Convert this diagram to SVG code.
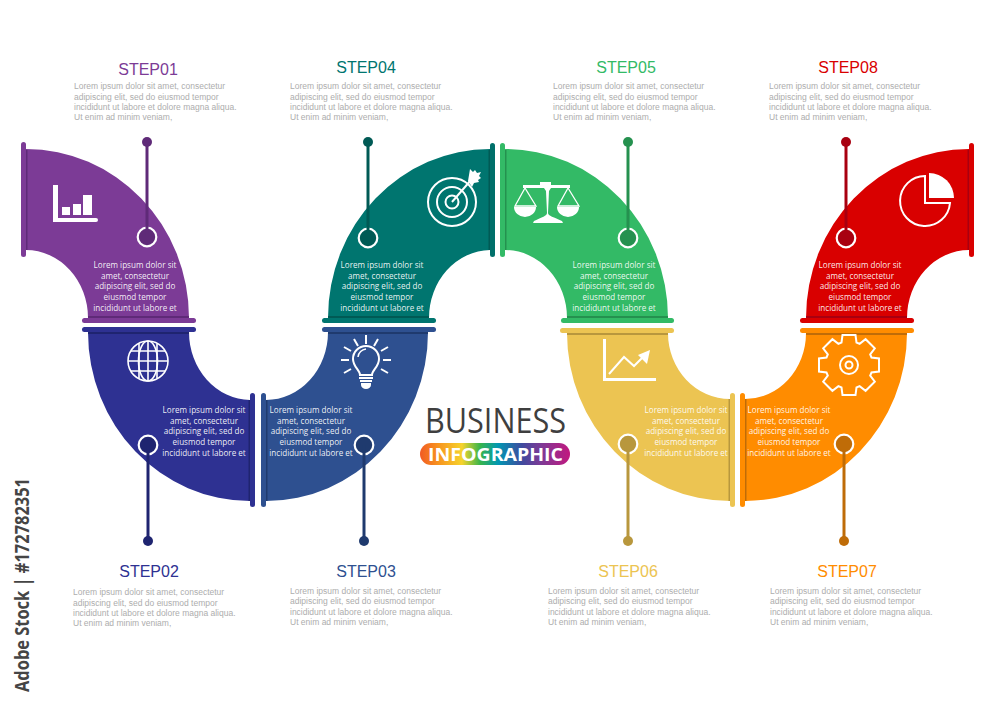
<svg xmlns="http://www.w3.org/2000/svg" width="1000" height="707" viewBox="0 0 1000 707">
<defs>
<linearGradient id="rainbow" x1="0" x2="1" y1="0" y2="0">
<stop offset="0" stop-color="#f15a24"/><stop offset="0.12" stop-color="#f7931e"/><stop offset="0.28" stop-color="#f6d32d"/><stop offset="0.4" stop-color="#39b54a"/><stop offset="0.52" stop-color="#0097b2"/><stop offset="0.68" stop-color="#3f4a9e"/><stop offset="0.8" stop-color="#7a3b96"/><stop offset="1" stop-color="#c2187f"/>
</linearGradient>
</defs>
<style>
text{font-family:"Liberation Sans",Arial,sans-serif}
.in{font-family:"Open Sans","Noto Sans",sans-serif;font-size:8.1px;fill:#fff;fill-opacity:.92;text-anchor:middle}
.ti{font-size:16px;text-anchor:middle}
.pa{font-size:8.5px;fill:#adadad}
.ic{fill:none;stroke:#fff;stroke-width:2}
.icf{fill:#fff;stroke:none}
.c{stroke-width:3;fill:none}
.r{stroke:#fff;stroke-width:2.200}
</style>
<rect width="1000" height="707" fill="#fff"/>

<g id="step01">
<path d="M26 149A163 169 0 0 1 189 318H88A62 68 0 0 0 26 250Z" fill="#7c3b96"/>
<rect x="88" y="316" width="101" height="2" fill="#5f2a78"/>
<rect x="26" y="150" width="1.500" height="100" fill="#5f2a78"/>
<rect x="21" y="142" width="5" height="115" rx="2.500" fill="#7c3b96"/>
<rect x="82" y="318" width="114" height="5" rx="2.500" fill="#7c3b96"/>
<path class="icf" d="M53 185h5v33h38a2 2 0 0 1 0 4H53Z"/><rect class="icf" x="62" y="207" width="8" height="8"/><rect class="icf" x="73" y="204" width="8" height="11"/><rect class="icf" x="83" y="195" width="9" height="20"/>
<text class="in" x="135" y="268">Lorem ipsum dolor sit</text><text class="in" x="135" y="279">amet, consectetur</text><text class="in" x="135" y="289">adipiscing elit, sed do</text><text class="in" x="135" y="300">eiusmod tempor</text><text class="in" x="135" y="310.500">incididunt ut labore et</text>
<text class="ti" x="148" y="75" fill="#7c3b96">STEP01</text>
<text class="pa" x="74" y="89">Lorem ipsum dolor sit amet, consectetur</text><text class="pa" x="74" y="99.500">adipiscing elit, sed do eiusmod tempor</text><text class="pa" x="74" y="109.500">incididunt ut labore et dolore magna aliqua.</text><text class="pa" x="74" y="119.500">Ut enim ad minim veniam,</text>
</g>

<g id="step02">
<path d="M88 332H189A62 68 0 0 0 250 400V501A162 169 0 0 1 88 332Z" fill="#2e3192"/>
<rect x="88" y="332" width="101" height="2" fill="#1f2470"/>
<rect x="248.500" y="400" width="1.500" height="101" fill="#1f2470"/>
<rect x="250" y="393" width="5" height="114" rx="2.500" fill="#2e3192"/>
<rect x="82" y="327" width="114" height="5" rx="2.500" fill="#2e3192"/>
<g class="ic" style="stroke-width:1.600"><circle cx="148" cy="361" r="20"/><ellipse cx="148" cy="361" rx="9.500" ry="20"/><path d="M148 341v40M131 351h34M128 361h40M131 371h34M139 343.500v35M157 343.500v35"/></g>
<text class="in" x="204" y="413">Lorem ipsum dolor sit</text><text class="in" x="204" y="424">amet, consectetur</text><text class="in" x="204" y="434">adipiscing elit, sed do</text><text class="in" x="204" y="445">eiusmod tempor</text><text class="in" x="204" y="455.500">incididunt ut labore et</text>
<text class="ti" x="149" y="577" fill="#2e3192">STEP02</text>
<text class="pa" x="73" y="595">Lorem ipsum dolor sit amet, consectetur</text><text class="pa" x="73" y="605.500">adipiscing elit, sed do eiusmod tempor</text><text class="pa" x="73" y="615.500">incididunt ut labore et dolore magna aliqua.</text><text class="pa" x="73" y="625.500">Ut enim ad minim veniam,</text>
</g>

<g id="step03">
<path d="M266 400A62 68 0 0 0 328 332H428A162 169 0 0 1 266 501Z" fill="#2e5090"/>
<rect x="328" y="332" width="100" height="2" fill="#1f3a6e"/>
<rect x="266" y="400" width="1.500" height="101" fill="#1f3a6e"/>
<rect x="261" y="393" width="5" height="114" rx="2.500" fill="#2e5090"/>
<rect x="322" y="327" width="114" height="5" rx="2.500" fill="#2e5090"/>
<path class="ic" d="M360 375c0-5-7-8-7-16a13 13 0 0 1 26 0c0 8-7 11-7 16Z"/>
<path class="ic" style="stroke-width:1.500" d="M366 349a9 9 0 0 0-8 8"/>
<path class="ic" d="M366 335v9M354 339l4 7M378 339l-4 7M344 347l7 4M388 347l-7 4M341 360h8M383 360h8M344 373l7-4M388 373l-7-4M359 378h14M360 381h12M361 384h10"/>
<path class="icf" d="M361 385h10a5 4 0 0 1-10 0Z"/>
<text class="in" x="311" y="413">Lorem ipsum dolor sit</text><text class="in" x="311" y="424">amet, consectetur</text><text class="in" x="311" y="434">adipiscing elit, sed do</text><text class="in" x="311" y="445">eiusmod tempor</text><text class="in" x="311" y="455.500">incididunt ut labore et</text>
<text class="ti" x="366" y="577" fill="#2e5090">STEP03</text>
<text class="pa" x="290" y="594">Lorem ipsum dolor sit amet, consectetur</text><text class="pa" x="290" y="604">adipiscing elit, sed do eiusmod tempor</text><text class="pa" x="290" y="614.500">incididunt ut labore et dolore magna aliqua.</text><text class="pa" x="290" y="624.500">Ut enim ad minim veniam,</text>
</g>

<g id="step04">
<path d="M328 318A162 169 0 0 1 490 149V250A62 68 0 0 0 429 318Z" fill="#00756f"/>
<rect x="328" y="316" width="101" height="2" fill="#005a55"/>
<rect x="488.500" y="150" width="1.500" height="100" fill="#005a55"/>
<rect x="490" y="143" width="5" height="114" rx="2.500" fill="#00706a"/>
<rect x="322" y="318" width="114" height="5" rx="2.500" fill="#00756f"/>
<g class="ic"><circle cx="452" cy="202" r="24"/><circle cx="452" cy="202" r="15"/><circle cx="452" cy="202" r="6.500"/><path d="M452 202l19-22"/></g>
<path class="icf" d="M468 181l2-12 3 3 2-2 2 3 4-1-2 4 2 2-3 2 1 2-5 1-2 4Z"/>
<text class="in" x="382" y="268">Lorem ipsum dolor sit</text><text class="in" x="382" y="279">amet, consectetur</text><text class="in" x="382" y="289">adipiscing elit, sed do</text><text class="in" x="382" y="300">eiusmod tempor</text><text class="in" x="382" y="310.500">incididunt ut labore et</text>
<text class="ti" x="366" y="73" fill="#00756f">STEP04</text>
<text class="pa" x="290" y="89">Lorem ipsum dolor sit amet, consectetur</text><text class="pa" x="290" y="99.500">adipiscing elit, sed do eiusmod tempor</text><text class="pa" x="290" y="109.500">incididunt ut labore et dolore magna aliqua.</text><text class="pa" x="290" y="119.500">Ut enim ad minim veniam,</text>
</g>

<g id="step05">
<path d="M505 149A163 169 0 0 1 668 318H567A62 68 0 0 0 505 250Z" fill="#33ba66"/>
<rect x="567" y="316" width="101" height="2" fill="#25914f"/>
<rect x="505" y="150" width="1.500" height="100" fill="#25914f"/>
<rect x="500" y="143" width="5" height="114" rx="2.500" fill="#33ba66"/>
<rect x="561" y="318" width="113" height="5" rx="2.500" fill="#33ba66"/>
<path class="icf" d="M523 185h17v-3h11v3h19v3h-19l-2 3-1 22c0 3 6 4 14 8l1 2h-30l1-2c8-4 13-5 13-8l-1-22-2-3h-21Z"/>
<path class="ic" style="stroke-width:1.300" d="M525 188l-10 18h21ZM568 188l-10 18h21Z"/>
<path class="icf" d="M514 207h22a11 10 0 0 1-22 0ZM557 207h22a11 10 0 0 1-22 0Z"/>
<text class="in" x="614" y="268">Lorem ipsum dolor sit</text><text class="in" x="614" y="279">amet, consectetur</text><text class="in" x="614" y="289">adipiscing elit, sed do</text><text class="in" x="614" y="300">eiusmod tempor</text><text class="in" x="614" y="310.500">incididunt ut labore et</text>
<text class="ti" x="626" y="73" fill="#33ba66">STEP05</text>
<text class="pa" x="553" y="89">Lorem ipsum dolor sit amet, consectetur</text><text class="pa" x="553" y="99.500">adipiscing elit, sed do eiusmod tempor</text><text class="pa" x="553" y="109.500">incididunt ut labore et dolore magna aliqua.</text><text class="pa" x="553" y="119.500">Ut enim ad minim veniam,</text>
</g>

<g id="step06">
<path d="M567 333H668A62 66 0 0 0 730 399V501A163 168 0 0 1 567 333Z" fill="#ecc452"/>
<rect x="567" y="333" width="101" height="2" fill="#b8973d"/>
<rect x="728.500" y="399" width="1.500" height="102" fill="#b8973d"/>
<rect x="730" y="393" width="5" height="114" rx="2.500" fill="#ecc452"/>
<rect x="560" y="328" width="114" height="5" rx="2.500" fill="#ecc452"/>
<path class="icf" d="M603 339h3v39h50v3h-53Z"/>
<path class="ic" d="M609 374l15-17 10 9 11-11"/>
<path class="icf" d="M650 350l-3 14-9-9Z"/>
<text class="in" x="686" y="413">Lorem ipsum dolor sit</text><text class="in" x="686" y="424">amet, consectetur</text><text class="in" x="686" y="434">adipiscing elit, sed do</text><text class="in" x="686" y="445">eiusmod tempor</text><text class="in" x="686" y="455.500">incididunt ut labore et</text>
<text class="ti" x="628" y="577" fill="#ecc452">STEP06</text>
<text class="pa" x="548" y="594">Lorem ipsum dolor sit amet, consectetur</text><text class="pa" x="548" y="604">adipiscing elit, sed do eiusmod tempor</text><text class="pa" x="548" y="614.500">incididunt ut labore et dolore magna aliqua.</text><text class="pa" x="548" y="624.500">Ut enim ad minim veniam,</text>
</g>

<g id="step07">
<path d="M745 399A61 66 0 0 0 806 333H907A162 168 0 0 1 745 501Z" fill="#ff8c00"/>
<rect x="806" y="333" width="101" height="2" fill="#bf6c08"/>
<rect x="745" y="399" width="1.500" height="102" fill="#bf6c08"/>
<rect x="740" y="393" width="5" height="114" rx="2.500" fill="#ff8c00"/>
<rect x="800" y="328" width="114" height="5" rx="2.500" fill="#ff8c00"/>
<g transform="translate(849 365)"><path class="ic" d="M-6.500 -30H6.500L7.500 -22.500L10.600 -21.200L16.600 -25.800L25.800 -16.600L21.200 -10.600L22.500 -7.500L30 -6.500V6.500L22.500 7.500L21.200 10.600L25.800 16.600L16.600 25.800L10.600 21.200L7.500 22.500L6.500 30H-6.500L-7.500 22.500L-10.600 21.200L-16.600 25.800L-25.800 16.600L-21.200 10.600L-22.500 7.500L-30 6.500V-6.500L-22.500 -7.500L-21.200 -10.600L-25.800 -16.600L-16.600 -25.800L-10.600 -21.200L-7.500 -22.500Z"/><circle class="ic" r="9"/><circle class="ic" r="3.500"/></g>
<text class="in" x="789" y="413">Lorem ipsum dolor sit</text><text class="in" x="789" y="424">amet, consectetur</text><text class="in" x="789" y="434">adipiscing elit, sed do</text><text class="in" x="789" y="445">eiusmod tempor</text><text class="in" x="789" y="455.500">incididunt ut labore et</text>
<text class="ti" x="847" y="577" fill="#ff8c00">STEP07</text>
<text class="pa" x="770" y="594">Lorem ipsum dolor sit amet, consectetur</text><text class="pa" x="770" y="604">adipiscing elit, sed do eiusmod tempor</text><text class="pa" x="770" y="614.500">incididunt ut labore et dolore magna aliqua.</text><text class="pa" x="770" y="624.500">Ut enim ad minim veniam,</text>
</g>

<g id="step08">
<path d="M806 318A163 169 0 0 1 969 149V250A62 68 0 0 0 907 318Z" fill="#d90000"/>
<rect x="806" y="316" width="101" height="2" fill="#a80010"/>
<rect x="967.500" y="150" width="1.500" height="100" fill="#a80010"/>
<rect x="969" y="143" width="5" height="114" rx="2.500" fill="#d90000"/>
<rect x="800" y="318" width="114" height="5" rx="2.500" fill="#d90000"/>
<path class="ic" d="M925 176A25 25 0 1 0 950 203H925Z"/>
<path class="icf" d="M929 173A25 25 0 0 1 954 198H929Z"/>
<text class="in" x="860" y="268">Lorem ipsum dolor sit</text><text class="in" x="860" y="279">amet, consectetur</text><text class="in" x="860" y="289">adipiscing elit, sed do</text><text class="in" x="860" y="300">eiusmod tempor</text><text class="in" x="860" y="310.500">incididunt ut labore et</text>
<text class="ti" x="848" y="73" fill="#d90000">STEP08</text>
<text class="pa" x="769" y="89">Lorem ipsum dolor sit amet, consectetur</text><text class="pa" x="769" y="99.500">adipiscing elit, sed do eiusmod tempor</text><text class="pa" x="769" y="109.500">incididunt ut labore et dolore magna aliqua.</text><text class="pa" x="769" y="119.500">Ut enim ad minim veniam,</text>
</g>

<g id="connectors">
<circle cx="147" cy="142" r="5" fill="#5f2a78"/><circle class="r" cx="147" cy="237" r="9.300" fill="#5f2a78"/><path class="c" stroke="#5f2a78" d="M147 142V237"/>
<circle class="r" cx="148" cy="445" r="9.300" fill="#1f2470"/><circle cx="148" cy="541" r="5" fill="#1f2470"/><path class="c" stroke="#1f2470" d="M148 445V541"/>
<circle class="r" cx="364" cy="445" r="9.300" fill="#1f3a6e"/><circle cx="364" cy="541" r="5" fill="#1f3a6e"/><path class="c" stroke="#1f3a6e" d="M364 445V541"/>
<circle cx="368" cy="142" r="5" fill="#005a55"/><circle class="r" cx="368" cy="238" r="9.300" fill="#005a55"/><path class="c" stroke="#005a55" d="M368 142V238"/>
<circle cx="628" cy="142" r="5" fill="#25914f"/><circle class="r" cx="628" cy="238" r="9.300" fill="#25914f"/><path class="c" stroke="#25914f" d="M628 142V238"/>
<circle class="r" cx="628" cy="444" r="9.300" fill="#b8973d"/><circle cx="628" cy="541" r="5" fill="#b8973d"/><path class="c" stroke="#b8973d" d="M628 444V541"/>
<circle class="r" cx="844" cy="444" r="9.300" fill="#bf6c08"/><circle cx="844" cy="541" r="5" fill="#bf6c08"/><path class="c" stroke="#bf6c08" d="M844 444V541"/>
<circle cx="846" cy="142" r="5" fill="#a80010"/><circle class="r" cx="846" cy="238" r="9.300" fill="#a80010"/><path class="c" stroke="#a80010" d="M846 142V238"/>
</g>

<g id="title">
<text x="425" y="433" font-size="34" fill="#3f3f3f" style="font-family:'Open Sans','Noto Sans',sans-serif" textLength="141" lengthAdjust="spacingAndGlyphs">BUSINESS</text>
<rect x="420" y="443" width="150" height="22" rx="11" fill="url(#rainbow)"/>
<text x="428" y="460.500" font-size="18" font-weight="700" fill="#fff" style="font-family:'Open Sans','Noto Sans',sans-serif" textLength="135" lengthAdjust="spacingAndGlyphs">INFOGRAPHIC</text>
</g>

<text transform="translate(29 692) rotate(-90)" font-size="19" font-weight="700" fill="#454545" style="font-family:'Open Sans','Noto Sans',sans-serif" textLength="214" lengthAdjust="spacingAndGlyphs">Adobe Stock | #172782351</text>
</svg>
